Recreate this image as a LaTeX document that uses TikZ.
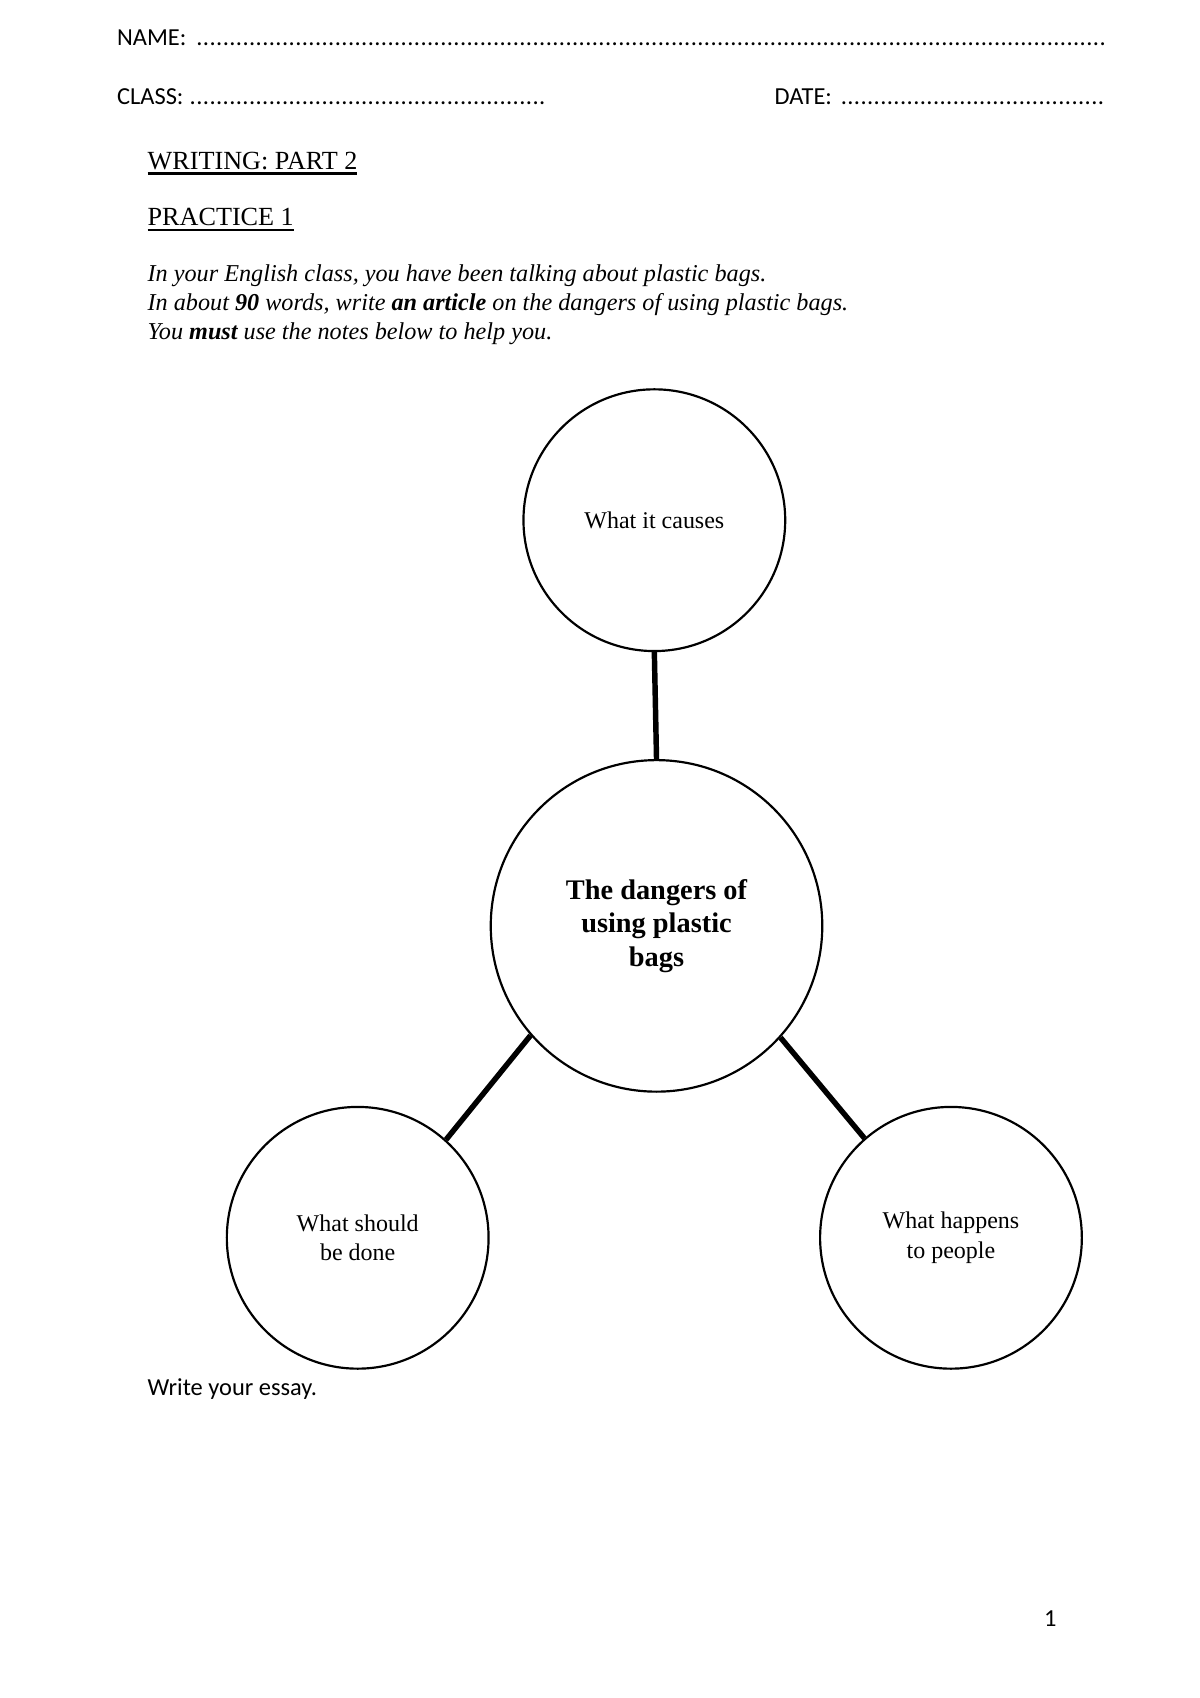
\documentclass[tikz,border=0pt]{standalone}
\usepackage{fontspec}
\setmainfont{Liberation Serif}
\newfontfamily\calib{Carlito}
\newcommand{\tightdots}{\leaders\hbox{.\kern0.2pt}\hfill\kern0pt}
\newcommand{\thul}[1]{\setbox0\hbox{#1}\rlap{\rule[-2.6pt]{\wd0}{1.3pt}}\box0}
\begin{document}
\begin{tikzpicture}[x=0.5pt,y=-0.5pt,
  hdr/.style={anchor=base west,inner sep=0pt,font=\calib\fontsize{11.2}{13}\selectfont},
  ttl/.style={anchor=base west,inner sep=0pt,font=\fontsize{12}{13}\selectfont},
  task/.style={anchor=base west,inner sep=0pt,font=\itshape\fontsize{11.1}{13.25}\selectfont},
  bubble/.style={circle,draw,line width=1pt,minimum size=120pt,inner sep=0pt,align=center,font=\fontsize{11}{13.5}\selectfont},
  bigbubble/.style={bubble,minimum size=152pt,font=\bfseries\fontsize{13}{15.3}\selectfont},
  link/.style={line width=2.5pt}]
\useasboundingbox (0,0) rectangle (1100,1557);
\node[hdr] (name) at (107,42) {\makebox[457pt][l]{NAME:\,\tightdots}};
\node[hdr] (class) at (107,96) {\makebox[197pt][l]{CLASS:\,\tightdots}};
\node[hdr] (date) at (710,96) {\makebox[153pt][l]{DATE:\,\tightdots}};
\node[ttl] (wp) at (135,155) {\thul{WRITING: PART 2}};
\node[ttl] (pr) at (135,207) {\thul{PRACTICE 1}};
\node[task] (t1) at (135,258) {In your English class, you have been talking about plastic bags.};
\node[task] (t2) at (135,284.5) {In about \textbf{90} words, write \textbf{an article} on the dangers of using plastic bags.};
\node[task] (t3) at (135,311) {You \textbf{must} use the notes below to help you.};
\node[bubble] (top) at (600,477) {What it causes};
\node[bigbubble] (mid) at (602,849) {The dangers of\\using plastic\\bags};
\node[bubble] (left) at (328,1135) {What should\\be done};
\node[bubble] (right) at (872,1135) {What happens\\to people};
\draw[link] (top.south) -- (mid.north);
\draw[link] (mid.221) -- (left.48);
\draw[link] (mid.318) -- (right.131);
\node[hdr] (essay) at (135,1280) {Write your essay.};
\node[hdr] (page) at (957,1491) {1};
\end{tikzpicture}
\end{document}
